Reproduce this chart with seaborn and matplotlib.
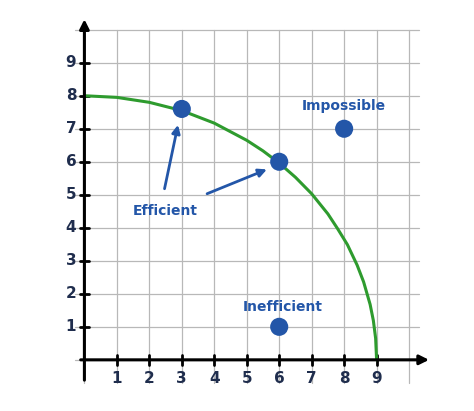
import matplotlib
matplotlib.use("Agg")
import matplotlib.pyplot as plt
import seaborn as sns
import pandas as pd

curve_x = [0, 1, 2, 3, 4, 5, 5.5, 6, 6.5, 7, 7.5, 7.8, 8.1, 8.4, 8.6, 8.8, 8.9, 8.97, 9]
curve_y = [8.0, 7.95, 7.8, 7.55, 7.17, 6.65, 6.33, 5.96, 5.53, 5.03, 4.42, 3.97, 3.49, 2.87, 2.36, 1.68, 1.19, 0.65, 0]
pt_x = [3, 6, 8, 6]
pt_y = [7.6, 6.0, 7.0, 1.0]
ticks = [1, 2, 3, 4, 5, 6, 7, 8, 9]

sns.set_style("white")
fig = plt.figure(figsize=(4.74, 4.11), dpi=100)
ax = fig.add_axes([0, 0, 1, 1])
ax.set_xlim(-2.6, 12)
ax.set_ylim(-1.55, 10.9)
ax.axis("off")

grid_c = "#b8b8b8"
for g in range(0, 11):
    ax.plot([g, g], [-0.7, 10.0], color=grid_c, lw=0.9, zorder=0)
    ax.plot([-0.3, 10.3], [g, g], color=grid_c, lw=0.9, zorder=0)

ax.annotate("", xy=(10.7, 0), xytext=(-0.2, 0),
            arrowprops=dict(arrowstyle="-|>", color="black", lw=2.2, mutation_scale=14))
ax.annotate("", xy=(0, 10.4), xytext=(0, -0.7),
            arrowprops=dict(arrowstyle="-|>", color="black", lw=2.2, mutation_scale=14))
for t in ticks:
    ax.plot([t, t], [-0.15, 0.15], color="black", lw=2)
    ax.plot([-0.15, 0.15], [t, t], color="black", lw=2)
    ax.text(t, -0.35, str(t), ha="center", va="top", fontsize=11, color="#1f2d4d", fontweight="bold")
    ax.text(-0.25, t, str(t), ha="right", va="center", fontsize=11, color="#1f2d4d", fontweight="bold")

df = pd.DataFrame({"x": curve_x, "y": curve_y})
ax.plot(df.x, df.y, color="#2e9b2e", lw=2.2, zorder=2)
sns.scatterplot(x=pt_x, y=pt_y, ax=ax, s=170, color="#2356a8", edgecolor="none", zorder=3)

blue = "#2356a8"
ax.text(2.5, 4.5, "Efficient", ha="center", va="center", fontsize=10, color=blue, fontweight="bold")
ax.annotate("", xy=(2.9, 7.2), xytext=(2.45, 5.1),
            arrowprops=dict(arrowstyle="-|>", color=blue, lw=2, mutation_scale=12))
ax.annotate("", xy=(5.7, 5.8), xytext=(3.7, 5.0),
            arrowprops=dict(arrowstyle="-|>", color=blue, lw=2, mutation_scale=12))
ax.text(8.0, 7.7, "Impossible", ha="center", va="center", fontsize=10, color=blue, fontweight="bold")
ax.text(6.1, 1.6, "Inefficient", ha="center", va="center", fontsize=10, color=blue, fontweight="bold")

fig.savefig("out.png", dpi=100)
